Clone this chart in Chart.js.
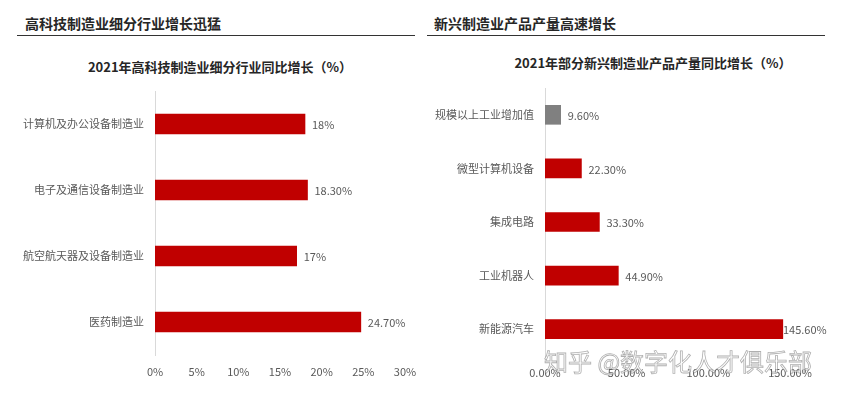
<!DOCTYPE html>
<html><head><meta charset="utf-8">
<script src="https://cdn.jsdelivr.net/npm/chart.js@4/dist/chart.umd.min.js"></script>
<style>
html,body{margin:0;padding:0;background:#fff;width:841px;height:395px;overflow:hidden;font-family:"Noto Sans CJK SC","Noto Sans",sans-serif;}
.hdr{position:absolute;top:14px;font-size:14px;font-weight:bold;color:#262626;line-height:18px;}
.rule{position:absolute;top:35px;height:0;border-top:1.3px solid #333;}
.ttl{position:absolute;font-size:13px;font-weight:bold;color:#262626;line-height:16px;white-space:nowrap;transform:translateX(-50%);}
.wrap{position:absolute;}
.wrap canvas{display:block;}
.wm{position:absolute;left:544px;top:346px;font-size:24px;line-height:30px;color:rgba(255,255,255,0.65);-webkit-text-stroke:0.8px rgba(110,110,110,0.55);white-space:nowrap;z-index:5;}
</style></head><body>
<div class="hdr" style="left:25px">高科技制造业细分行业增长迅猛</div>
<div class="rule" style="left:17px;width:398px"></div>
<div class="hdr" style="left:434px">新兴制造业产品产量高速增长</div>
<div class="rule" style="left:427px;width:398px"></div>
<div class="ttl" style="left:220px;top:59px">2021年高科技制造业细分行业同比增长（%）</div>
<div class="ttl" style="left:653px;top:55px">2021年部分新兴制造业产品产量同比增长（%）</div>
<div class="wrap" style="left:0;top:80px;width:420px;height:315px"><canvas id="c1"></canvas></div>
<div class="wrap" style="left:420px;top:77px;width:421px;height:318px"><canvas id="c2"></canvas></div>
<div class="wm">知乎 @数字化人才俱乐部</div>
<script>
const leftCategories = ["计算机及办公设备制造业","电子及通信设备制造业","航空航天器及设备制造业","医药制造业"];
const leftValues = [18, 18.3, 17, 24.7];
const leftValueLabels = ["18%","18.30%","17%","24.70%"];
const leftTicks = [0,5,10,15,20,25,30];

const rightCategories = ["规模以上工业增加值","微型计算机设备","集成电路","工业机器人","新能源汽车"];
const rightValues = [9.6, 22.3, 33.3, 44.9, 145.6];
const rightValueLabels = ["9.60%","22.30%","33.30%","44.90%","145.60%"];
const rightTicks = [0,50,100,150];

const RED = "#C00000", GRAY = "#808080";
const FONT = "'Noto Sans CJK SC','Noto Sans',sans-serif";

const valueLabelPlugin = {
  id: 'valueLabels',
  afterDatasetsDraw(chart, args, opts) {
    const ctx = chart.ctx;
    const meta = chart.getDatasetMeta(0);
    ctx.save();
    ctx.font = "11px " + FONT;
    ctx.fillStyle = "#595959";
    ctx.textBaseline = "middle";
    ctx.textAlign = "left";
    meta.data.forEach((bar, i) => {
      const x = Math.min(bar.x + 7, chart.chartArea.right - 7);
      ctx.fillText(opts.labels[i], x, bar.y + 1);
    });
    ctx.restore();
  }
};

function makeChart(id, cats, vals, labels, ticks, colors, yWidth, padRight, padTop, xHeight, tickFmt, thickness) {
  return new Chart(document.getElementById(id), {
    type: 'bar',
    data: { labels: cats, datasets: [{ data: vals, backgroundColor: colors, borderWidth: 0, barThickness: thickness }] },
    plugins: [valueLabelPlugin],
    options: {
      indexAxis: 'y',
      responsive: true,
      maintainAspectRatio: false,
      animation: false,
      layout: { padding: { left: 0, right: padRight, top: padTop, bottom: 0 } },
      plugins: { legend: { display: false }, tooltip: { enabled: false }, title: { display: false }, valueLabels: { labels: labels } },
      scales: {
        x: {
          min: ticks[0], max: ticks[ticks.length - 1],
          afterBuildTicks: (s) => { s.ticks = ticks.map(v => ({ value: v })); },
          afterFit: (s) => { s.height = xHeight; s.paddingLeft = 0; s.paddingRight = 0; },
          grid: { display: false, drawTicks: false },
          border: { display: false },
          ticks: { callback: tickFmt, color: "#595959", font: { size: 11, family: FONT }, padding: 10, maxRotation: 0 }
        },
        y: {
          afterFit: (s) => { s.width = yWidth; s.paddingTop = 0; s.paddingBottom = 0; },
          grid: { display: false, drawTicks: false },
          border: { display: true, color: "#d9d9d9", width: 1 },
          ticks: { color: "#595959", font: { size: 11, family: FONT }, padding: 11 }
        }
      }
    }
  });
}

makeChart('c1', leftCategories, leftValues, leftValueLabels, leftTicks,
  leftValues.map(() => RED), 155, 15, 11, 40, (v) => v + "%", 20);
makeChart('c2', rightCategories, rightValues, rightValueLabels, rightTicks,
  rightValues.map((v, i) => i === 0 ? GRAY : RED), 125, 51, 11, 39, (v) => v.toFixed(2) + "%", 19);
</script>
</body></html>
